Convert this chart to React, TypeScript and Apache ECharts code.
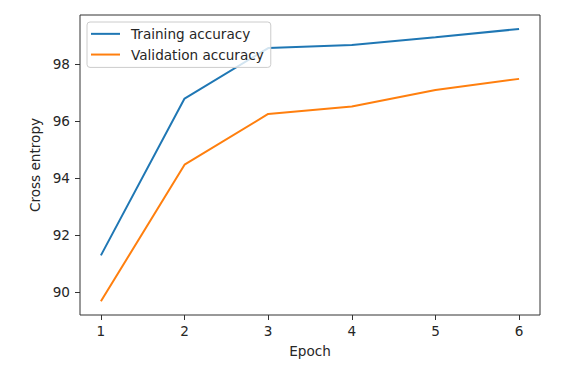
import React, { useEffect, useRef } from "react";
import * as echarts from "echarts";

const epochs = [1, 2, 3, 4, 5, 6];
const trainingAccuracy = [91.28, 96.78, 98.55, 98.66, 98.93, 99.22];
const validationAccuracy = [89.67, 94.46, 96.24, 96.5, 97.08, 97.47];
const xTicks = [1, 2, 3, 4, 5, 6];
const yTicks = [90, 92, 94, 96, 98];

const FONT = "DejaVu Sans";
const FS = 13.6;
const TEXT = "#262626";
const SPINE = "#333333";

export default function App() {
  const ref = useRef<HTMLDivElement>(null);
  useEffect(() => {
    if (!ref.current) return;
    const chart = echarts.init(ref.current, undefined, { renderer: "svg" });
    chart.setOption({
      animation: false,
      backgroundColor: "#ffffff",
      textStyle: { fontFamily: FONT },
      grid: {
        left: 80,
        right: 23,
        top: 15,
        bottom: 55,
        show: true,
        borderColor: SPINE,
        borderWidth: 1,
        backgroundColor: "transparent",
      },
      legend: {
        left: 87,
        top: 22,
        orient: "vertical",
        padding: [4, 7, 5, 4],
        itemGap: 5,
        itemWidth: 29,
        itemHeight: 2,
        icon: "rect",
        borderColor: "#cccccc",
        borderWidth: 1,
        borderRadius: 3,
        backgroundColor: "rgba(255,255,255,0.8)",
        textStyle: {
          fontFamily: FONT,
          fontSize: FS,
          color: TEXT,
          lineHeight: 15.7,
          padding: [0, 0, 0, 6],
        },
        data: ["Training accuracy", "Validation accuracy"],
      },
      xAxis: {
        type: "value",
        min: 0.75,
        max: 6.25,
        name: "Epoch",
        nameLocation: "middle",
        nameGap: 29,
        nameTextStyle: { fontFamily: FONT, fontSize: FS, color: TEXT },
        splitLine: { show: false },
        axisLine: { show: false },
        axisTick: {
          show: true,
          length: 5,
          inside: false,
          lineStyle: { color: SPINE, width: 1 },
          customValues: xTicks,
        },
        axisLabel: {
          fontFamily: FONT,
          fontSize: FS,
          color: TEXT,
          margin: 9,
          customValues: xTicks,
        },
      },
      yAxis: {
        type: "value",
        min: 89.19,
        max: 99.71,
        name: "Cross entropy",
        nameLocation: "middle",
        nameGap: 35,
        nameTextStyle: { fontFamily: FONT, fontSize: FS, color: TEXT },
        splitLine: { show: false },
        axisLine: { show: false },
        axisTick: {
          show: true,
          length: 5,
          inside: false,
          lineStyle: { color: SPINE, width: 1 },
          customValues: yTicks,
        },
        axisLabel: {
          fontFamily: FONT,
          fontSize: FS,
          color: TEXT,
          margin: 10,
          customValues: yTicks,
        },
      },
      series: [
        {
          name: "Training accuracy",
          type: "line",
          data: epochs.map((e, i) => [e, trainingAccuracy[i]]),
          showSymbol: false,
          symbol: "none",
          lineStyle: { color: "#1f77b4", width: 2 },
          itemStyle: { color: "#1f77b4" },
        },
        {
          name: "Validation accuracy",
          type: "line",
          data: epochs.map((e, i) => [e, validationAccuracy[i]]),
          showSymbol: false,
          symbol: "none",
          lineStyle: { color: "#ff7f0e", width: 2 },
          itemStyle: { color: "#ff7f0e" },
        },
      ],
    });
    return () => chart.dispose();
  }, []);
  return (
    <div
      ref={ref}
      style={{ position: "fixed", left: 0, top: 0, width: 563, height: 370 }}
    />
  );
}
